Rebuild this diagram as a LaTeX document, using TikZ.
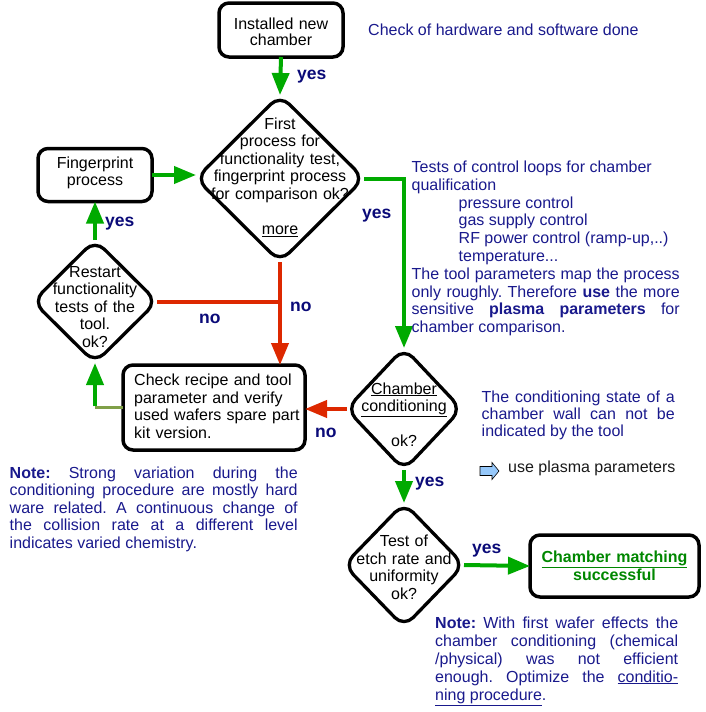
\documentclass[tikz,border=0pt]{standalone}
\usepackage{fontspec}
\setmainfont{Liberation Sans}
\usetikzlibrary{shapes.geometric,arrows.meta}
\definecolor{navy}{RGB}{25,25,140}
\definecolor{lbl}{RGB}{10,10,120}
\definecolor{grn}{RGB}{0,170,0}
\definecolor{rd}{RGB}{221,40,0}
\definecolor{olv}{RGB}{128,160,72}
\definecolor{lblue}{RGB}{150,200,250}
\definecolor{dgreen}{RGB}{0,135,0}
\hbadness=10000
\hfuzz=20pt
\frenchspacing
\begin{document}
\begin{tikzpicture}[x=1pt,y=-1pt,
 box/.style={draw, line width=3.5pt, rounded corners=10pt, inner sep=0pt, outer sep=0pt},
 dia/.style={draw, diamond, line width=3.3pt, rounded corners=13pt, inner sep=0pt, outer sep=0pt},
 txt/.style={inner sep=0pt, anchor=base, align=center, text width=200pt, font=\fontsize{16}{17.6}\selectfont},
 note/.style={inner sep=0pt, anchor=base west, align=justify, text=navy, font=\fontsize{16}{17.8}\selectfont},
 lab/.style={inner sep=0pt, anchor=base west, text=lbl, font=\fontsize{17.5}{18}\selectfont\bfseries},
 garrow/.style={draw=grn, line width=4pt, -{Triangle[length=22pt,width=17pt]}},
 rarrow/.style={draw=rd, line width=4pt, -{Triangle[length=22pt,width=17pt]}},
 rline/.style={draw=rd, line width=4pt},
 oline/.style={draw=olv, line width=2.5pt},
]
\useasboundingbox (0,0) rectangle (706,712);

% boxes
\node[box, minimum width=124pt, minimum height=54pt] (inst) at (281,30) {};
\node[txt, font=\fontsize{16}{16}\selectfont] (instt) at (281,29) {Installed new\\chamber};

\node[box, minimum width=114pt, minimum height=53pt] (fp) at (95,175) {};
\node[txt, font=\fontsize{16}{16.7}\selectfont] (fpt) at (95,168.5) {Fingerprint\\process};

\node[box, minimum width=182pt, minimum height=85pt] (chk) at (214,407.5) {};
\node[txt, anchor=base west, align=left, text width=175pt] (chkt) at (134,385.7) {Check recipe and tool\\parameter and verify\\used wafers spare part\\kit version.};

\node[box, minimum width=169pt, minimum height=62pt] (cm) at (614.5,566) {};
\node[txt, text=dgreen, font=\fontsize{16}{16.5}\selectfont\bfseries] (cmt) at (614.5,562.7) {\underline{Chamber matching}\\successful};

% diamonds
\node[dia, minimum width=168pt, minimum height=167pt] (d1) at (280,178.5) {};
\node[txt] (d1t) at (280,129) {First\\process for\\functionality test,\\fingerprint process\\for comparison ok?\\[17.6pt]\underline{more}};

\node[dia, minimum width=124pt, minimum height=123pt] (rs) at (95,301.5) {};
\node[txt] (rst) at (95,277) {Restart\\functionality\\tests of the\\tool.\\ok?};

\node[dia, minimum width=115pt, minimum height=122pt] (cc) at (404,409) {};
\node[txt] (cct) at (404,394) {\underline{Chamber}\\\underline{conditioning}\\[17.6pt]ok?};

\node[dia, minimum width=120pt, minimum height=124pt] (te) at (404,565) {};
\node[txt] (tet) at (404,546.7) {Test of\\etch rate and\\uniformity\\ok?};

% connectors
\draw[garrow] (inst.south) -- (d1.north);
\draw[garrow] (fp.east) -- (fp.east -| d1.west);
\draw[garrow] (rs.north) -- (fp.south);
\draw[garrow] (d1.east) -| (cc.north);
\draw[rline] (rs.east) -- (rs.east -| d1.south);
\draw[rarrow] (d1.south) -- (d1.south |- chk.north);
\draw[rarrow] (cc.west) -- (cc.west -| chk.east);
\coordinate (bend) at (chk.west -| rs.south);
\draw[oline] (chk.west) -- (bend);
\draw[garrow] ([yshift=1.25pt]bend) -- (rs.south);
\draw[garrow] (cc.south) -- (te.north);
\draw[garrow] (te.east) -- (cm.west);

% connector labels
\node[lab] (l1) at (297,79) {yes};
\node[lab] (l2) at (105,226) {yes};
\node[lab] (l3) at (199,323) {no};
\node[lab] (l4) at (290,311) {no};
\node[lab] (l5) at (362,218) {yes};
\node[lab] (l6) at (315,437) {no};
\node[lab] (l7) at (415,486) {yes};
\node[lab] (l8) at (472,553) {yes};

% annotations
\node[note, align=left] (n1) at (368,35) {Check of hardware and software done};

\node[note, text width=268pt] (n2) at (411.5,172.5) {Tests of control loops for chamber\newline qualification\newline
\hspace*{47pt}pressure control\newline
\hspace*{47pt}gas supply control\newline
\hspace*{47pt}RF power control (ramp-up,..)\newline
\hspace*{47pt}temperature...\newline
The tool parameters map the process\linebreak only roughly. Therefore \textbf{use} the more\linebreak sensitive \textbf{plasma parameters} for\linebreak chamber comparison.};

\node[note, text width=193pt, font=\fontsize{16}{16.8}\selectfont] (n3) at (481.5,402.7) {The conditioning state of a\linebreak chamber wall can not be\linebreak indicated by the tool};

\draw[fill=lblue, draw=black, line width=0.6pt] (480,466.5) -- (492,466.5) -- (492,462.5) -- (499,471) -- (492,479.5) -- (492,475.5) -- (480,475.5) -- cycle;
\node[note, text=black!90] (n4) at (508,472.7) {use plasma parameters};

\node[note, text width=288pt, font=\fontsize{16}{17.5}\selectfont] (n5) at (9.5,478) {\textbf{Note:} Strong variation during the\linebreak conditioning procedure are mostly hard\linebreak ware related. A continuous change of\linebreak the collision rate at a different level\linebreak indicates varied chemistry.};

\node[note, text width=243pt, font=\fontsize{16}{18}\selectfont] (n6) at (435,628) {\textbf{Note:} With first wafer effects the\linebreak chamber conditioning (chemical\linebreak /physical) was not efficient\linebreak enough. Optimize the \underline{conditio-}\linebreak \underline{ning procedure}.};
\end{tikzpicture}
\end{document}
